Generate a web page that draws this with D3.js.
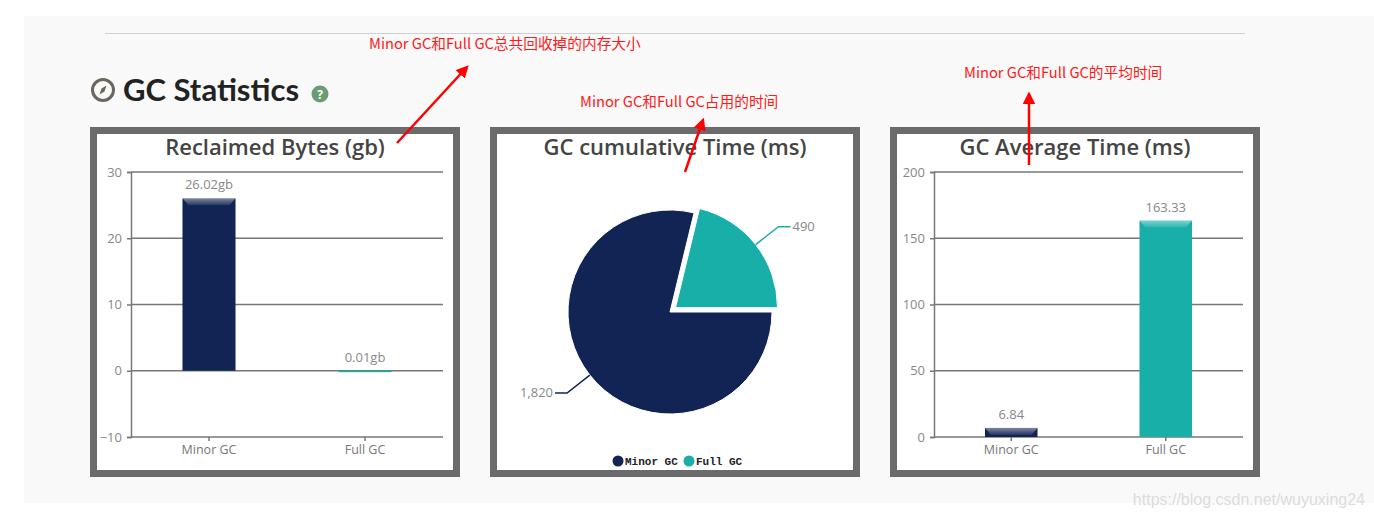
<!DOCTYPE html>
<html>
<head>
<meta charset="utf-8">
<script src="https://cdn.jsdelivr.net/npm/d3@7"></script>
<style>
  body { margin: 0; background: #fff; }
  text { font-family: "Open Sans", Lato, sans-serif; }
</style>
</head>
<body>
<div id="chart"></div>
<script>
// Chart data
const categories = ["Minor GC", "Full GC"];
const reclaimedGb = [26.02, 0.01];
const cumulativeMs = [1820, 490];
const averageMs = [6.84, 163.33];
const reclaimedTicks = [-10, 0, 10, 20, 30];
const averageTicks = [0, 50, 100, 150, 200];
const panelTitles = ["Reclaimed Bytes (gb)", "GC cumulative Time (ms)", "GC Average Time (ms)"];
const notes = ["Minor GC和Full GC总共回收掉的内存大小", "Minor GC和Full GC占用的时间", "Minor GC和Full GC的平均时间"];

const colors = ["#112453", "#17afa8"];

const svg = d3.select("#chart").append("svg")
    .attr("width", 1374)
    .attr("height", 517);

const defs = svg.append("defs");
const grad = defs.append("linearGradient")
    .attr("id", "capGrad")
    .attr("x1", 0).attr("y1", 0).attr("x2", 0).attr("y2", 1);
grad.append("stop").attr("offset", "0%").attr("stop-color", "#fff").attr("stop-opacity", 0.45);
grad.append("stop").attr("offset", "100%").attr("stop-color", "#fff").attr("stop-opacity", 0.08);

defs.append("marker")
    .attr("id", "arrow")
    .attr("viewBox", "0 0 10 10")
    .attr("refX", 8).attr("refY", 5)
    .attr("markerWidth", 5).attr("markerHeight", 5)
    .attr("orient", "auto")
    .append("path")
    .attr("d", "M0,0 L10,5 L0,10 z")
    .attr("fill", "#ff0000");

// page background
svg.append("rect")
    .attr("x", 24).attr("y", 16)
    .attr("width", 1350).attr("height", 487)
    .attr("fill", "#f9f9f9");

svg.append("line")
    .attr("x1", 105).attr("x2", 1245)
    .attr("y1", 33.5).attr("y2", 33.5)
    .attr("stroke", "#cfcfcf");

// heading with icons
const icon = svg.append("g").attr("transform", "translate(103,90)");
icon.append("circle").attr("r", 10.5).attr("fill", "none").attr("stroke", "#6e655c").attr("stroke-width", 3);
icon.append("path").attr("d", "M3.5,-4.5 L-1.5,-1.5 L-3.5,4.5 L1.5,1.5 z").attr("fill", "#6e655c");

svg.append("text")
    .attr("x", 123).attr("y", 101)
    .style("font-family", "Lato, sans-serif")
    .style("font-weight", 700)
    .style("font-size", "31px")
    .attr("fill", "#222")
    .text("GC Statistics");

svg.append("circle").attr("cx", 320).attr("cy", 94).attr("r", 8.5).attr("fill", "#6d9b73");
svg.append("text")
    .attr("x", 320).attr("y", 98.5)
    .attr("text-anchor", "middle")
    .style("font-size", "12px").style("font-weight", 700)
    .attr("fill", "#fff")
    .text("?");

// panels
const panelX = [90, 490, 890];
const panels = panelX.map(function(px, i) {
    const g = svg.append("g").attr("transform", "translate(" + px + ",127)");
    g.append("rect")
        .attr("x", 3.5).attr("y", 3.5)
        .attr("width", 363).attr("height", 343)
        .attr("fill", "#fff")
        .attr("stroke", "#6b6b6b")
        .attr("stroke-width", 7);
    g.append("text")
        .attr("x", 185).attr("y", 28)
        .attr("text-anchor", "middle")
        .style("font-size", "22px").style("font-weight", 600)
        .attr("fill", "#444")
        .text(panelTitles[i]);
    return g;
});

// bar chart helper
function drawBars(g, values, ticks, left, suffix, fmt) {
    const top = 45, bottom = 310, right = 353;
    const x = d3.scaleBand().domain(categories).range([left, right]).paddingInner(0.66).paddingOuter(0.33);
    const y = d3.scaleLinear().domain([ticks[0], ticks[ticks.length - 1]]).range([bottom, top]);

    // gridlines
    g.selectAll(".grid").data(ticks).enter().append("line")
        .attr("x1", left).attr("x2", right)
        .attr("y1", d => y(d)).attr("y2", d => y(d))
        .attr("stroke", "#777").attr("stroke-width", 1.5);

    // y axis
    const yAxis = g.append("g")
        .attr("transform", "translate(" + left + ",0)")
        .call(d3.axisLeft(y).tickValues(ticks).tickSize(4).tickPadding(5));
    yAxis.select(".domain").attr("stroke", "#777").attr("stroke-width", 1.5);
    yAxis.selectAll("line").attr("stroke", "#777").attr("stroke-width", 1.5);
    yAxis.selectAll("text").attr("fill", "#888").style("font-size", "13px").style("font-family", "Open Sans, sans-serif");

    // x axis
    const xAxis = g.append("g")
        .attr("transform", "translate(0," + bottom + ")")
        .call(d3.axisBottom(x).tickSize(4).tickPadding(4));
    xAxis.select(".domain").remove();
    xAxis.selectAll("line").attr("stroke", "#777").attr("stroke-width", 1.5);
    xAxis.selectAll("text").attr("fill", "#777").style("font-size", "12.5px").style("font-family", "Open Sans, sans-serif");

    const base = y(Math.max(0, ticks[0]));
    const bars = g.selectAll(".bar").data(values).enter().append("g");
    bars.append("rect")
        .attr("x", (d, i) => x(categories[i]))
        .attr("y", d => y(d))
        .attr("width", x.bandwidth())
        .attr("height", d => Math.max(1.5, base - y(d)))
        .attr("fill", (d, i) => colors[i]);
    bars.filter(d => base - y(d) > 6).append("path")
        .attr("d", function(d, i) {
            const x0 = x(categories[i]), w = x.bandwidth(), y0 = y(d);
            return "M" + x0 + "," + y0 + "h" + w + "l-6,7h" + (-(w - 12)) + "z";
        })
        .attr("fill", "url(#capGrad)");
    bars.append("text")
        .attr("x", (d, i) => x(categories[i]) + x.bandwidth() / 2)
        .attr("y", d => y(d) - 9)
        .attr("text-anchor", "middle")
        .attr("fill", "#888")
        .style("font-size", "13px")
        .text(d => fmt(d) + suffix);
}

drawBars(panels[0], reclaimedGb, reclaimedTicks, 41, "gb", d3.format(".2f"));
drawBars(panels[2], averageMs, averageTicks, 44, "", d3.format(".2f"));

// pie chart
const pg = panels[1];
const cx = 180, cy = 185, r = 102;
const pie = d3.pie().sort(null).startAngle(Math.PI / 2).endAngle(Math.PI / 2 + 2 * Math.PI);
const arc = d3.arc().innerRadius(0).outerRadius(r);
const slices = pie(cumulativeMs);
const explode = [0, 7];

slices.forEach(function(s, i) {
    const mid = (s.startAngle + s.endAngle) / 2;
    const ox = cx + Math.sin(mid) * explode[i];
    const oy = cy - Math.cos(mid) * explode[i];
    const sg = pg.append("g").attr("transform", "translate(" + ox + "," + oy + ")");
    sg.append("path")
        .attr("d", arc(s))
        .attr("fill", colors[i])
        .attr("stroke", "#fff")
        .attr("stroke-width", 1);

    const dx = Math.sin(mid), dy = -Math.cos(mid);
    const p1 = [dx * r, dy * r];
    const p2 = [dx * (r + 29), dy * (r + 29)];
    const side = dx > 0 ? 1 : -1;
    const p3 = [p2[0] + side * 12, p2[1]];
    sg.append("path")
        .attr("d", "M" + p1 + "L" + p2 + "L" + p3)
        .attr("fill", "none")
        .attr("stroke", colors[i])
        .attr("stroke-width", 1.5);
    sg.append("text")
        .attr("x", p3[0] + side * 2)
        .attr("y", p3[1] + 4.5)
        .attr("text-anchor", side > 0 ? "start" : "end")
        .attr("fill", "#888")
        .style("font-size", "13px")
        .text(d3.format(",")(s.data));
});

// pie legend
const legend = pg.selectAll(".legend").data(categories).enter().append("g")
    .attr("transform", (d, i) => "translate(" + (128 + i * 71) + ",334)");
legend.append("circle").attr("r", 5.5).attr("fill", (d, i) => colors[i]);
legend.append("text")
    .attr("x", 7).attr("y", 4)
    .style("font-family", "Liberation Mono, monospace")
    .style("font-size", "11px").style("font-weight", 700)
    .attr("fill", "#222")
    .text(d => d);

// red annotations
const noteAt = [[369, 49], [580, 107], [964, 78]];
const arrows = [[397, 143, 467, 67], [685, 172, 703, 120], [1029, 165, 1029, 94]];
notes.forEach(function(t, i) {
    svg.append("text")
        .attr("x", noteAt[i][0]).attr("y", noteAt[i][1])
        .style("font-family", "Noto Sans CJK SC, sans-serif")
        .style("font-size", "14.7px")
        .attr("fill", "#ff1a1a")
        .text(t);
    const a = arrows[i];
    svg.append("line")
        .attr("x1", a[0]).attr("y1", a[1]).attr("x2", a[2]).attr("y2", a[3])
        .attr("stroke", "#ff0000").attr("stroke-width", 2.5)
        .attr("marker-end", "url(#arrow)");
});

// watermark
svg.append("text")
    .attr("x", 1365).attr("y", 505)
    .attr("text-anchor", "end")
    .style("font-family", "Liberation Sans, Arial, sans-serif")
    .style("font-size", "16px")
    .attr("fill", "#dcdcdc")
    .text("https://blog.csdn.net/wuyuxing24");
</script>
</body>
</html>
